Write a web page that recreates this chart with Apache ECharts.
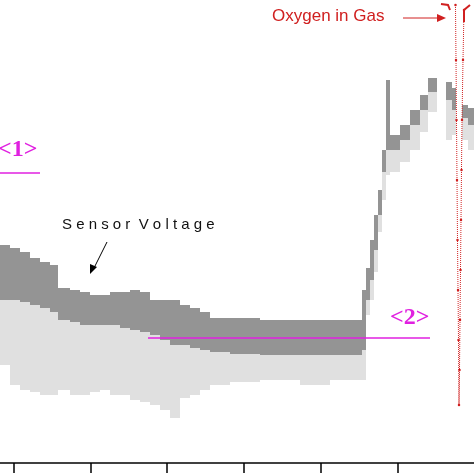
<!DOCTYPE html><html><head><meta charset="utf-8"><script src="https://cdn.jsdelivr.net/npm/echarts@6/dist/echarts.min.js"></script>
<style>html,body{margin:0;padding:0;background:#fff}#c{width:474px;height:474px}</style></head><body><div id="c"></div><script>
// sensor voltage envelope: [xStart, xEnd, top, denseBottom, sparseBottom] (vertical in chart units, inverted axis)
const sensorBands=[
[0,10,245,300,365],[10,20,248,300,385],[20,30,252,302,390],[30,40,258,305,392],[40,50,262,308,395],[50,58,265,312,395],
[58,70,288,320,390],[70,80,290,322,395],[80,90,292,325,395],[90,100,295,325,392],[100,110,295,325,390],[110,120,292,325,395],
[120,130,292,328,395],[130,140,290,330,400],[140,150,292,332,402],[150,160,300,335,405],[160,170,300,340,410],[170,180,300,345,418],
[180,190,305,345,398],[190,200,308,348,395],[200,210,312,350,390],[210,230,318,352,385],[230,260,318,354,382],
[260,300,320,355,380],[300,330,320,355,385],[330,362,320,355,380],
[362,366,290,350,380],[366,370,268,300,315],[370,374,240,280,300],[374,378,215,250,272],[378,382,190,215,232],
[382,386,150,172,200],[386,390,80,150,175],[390,400,135,150,172],[400,410,125,140,162],[410,420,110,125,150],
[420,428,95,110,132],[428,437,78,92,112],[446,452,82,100,140],[452,456,88,110,135],[462,468,105,118,140],[468,474,108,125,150]
];
const oxygenX=[455.5,456,456.5,457,457.5,458,458.5,459,459.5,460,460.5,461,461.5,462,463,464];
const oxygenY=[5,60,120,180,240,290,340,405,370,320,270,220,170,120,60,10];
const tickValues=[14,91,167,244,321,398];
const line1=[[0,173],[40,173]];
const line2=[[148,338],[430,338]];
const chart=echarts.init(document.getElementById('c'));
chart.setOption({
 animation:false,
 grid:{left:0,right:0,top:0,bottom:11},
 xAxis:{type:'value',min:0,max:474,position:'bottom',axisLine:{onZero:false,lineStyle:{color:'#000',width:1.5}},
  axisTick:{show:true,customValues:tickValues,length:10,lineStyle:{color:'#000',width:1.5}},
  axisLabel:{show:false},splitLine:{show:false}},
 yAxis:{type:'value',min:0,max:463,inverse:true,show:false},
 series:[
  {type:'custom',data:sensorBands,renderItem:function(p,api){
    const x0=api.value(0),x1=api.value(1);
    const a=api.coord([x0,api.value(2)]),b=api.coord([x1,api.value(3)]),c=api.coord([x1,api.value(4)]);
    return {type:'group',children:[
     {type:'rect',shape:{x:a[0],y:a[1],width:b[0]-a[0],height:b[1]-a[1]},style:{fill:'rgba(0,0,0,0.42)'}},
     {type:'rect',shape:{x:a[0],y:b[1],width:b[0]-a[0],height:c[1]-b[1]},style:{fill:'rgba(0,0,0,0.12)'}}
    ]};
  }},
  {type:'line',data:oxygenX.map((x,i)=>[x,oxygenY[i]]),symbol:'circle',symbolSize:2.5,lineStyle:{color:'#d02020',width:1,type:'dotted'},itemStyle:{color:'#d02020'}},
  {type:'line',data:line1,symbol:'none',lineStyle:{color:'#e020e0',width:1.5}},
  {type:'line',data:line2,symbol:'none',lineStyle:{color:'#e020e0',width:1.5}}
 ],
 graphic:[
  {type:'text',left:-2,top:138,style:{text:'<1>',fill:'#e020e0',font:'bold 24px "Liberation Serif"'}},
  {type:'text',left:390,top:306,style:{text:'<2>',fill:'#e020e0',font:'bold 24px "Liberation Serif"'}},
  {type:'text',left:62,top:217,style:{text:'S e n s o r  V o l t a g e',fill:'#111',font:'15px "Liberation Sans"'}},
  {type:'line',shape:{x1:107,y1:242,x2:93,y2:270},style:{stroke:'#000',lineWidth:1}},
  {type:'polygon',shape:{points:[[90,274],[90,264],[97,267]]},style:{fill:'#000'}},
  {type:'text',left:272,top:8,style:{text:'Oxygen in Gas',fill:'#d02020',font:'17px "Liberation Sans"'}},
  {type:'line',shape:{x1:403,y1:18,x2:440,y2:18},style:{stroke:'#d02020',lineWidth:1}},
  {type:'polygon',shape:{points:[[446,18],[437,14],[437,22]]},style:{fill:'#d02020'}},
  {type:'polyline',shape:{points:[[441,4],[448,5],[450,10]]},style:{stroke:'#d02020',lineWidth:2,fill:null}},
  {type:'polyline',shape:{points:[[464,22],[464,10],[470,5]]},style:{stroke:'#d02020',lineWidth:2,fill:null}}
 ]
});
</script></body></html>
